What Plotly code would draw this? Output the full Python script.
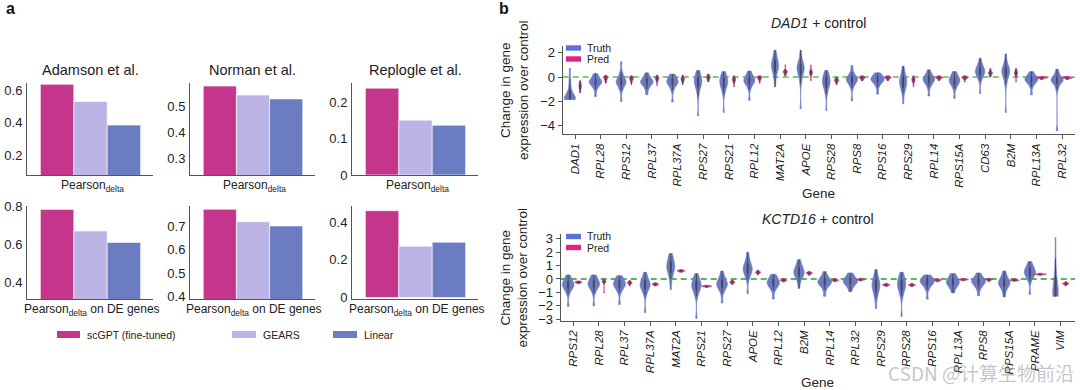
import plotly.graph_objects as go

W, H = 1080, 390

# ---------------- DATA ----------------
methods = ["scGPT (fine-tuned)", "GEARS", "Linear"]
datasets = ["Adamson et al.", "Norman et al.", "Replogle et al."]

adamson_delta = [0.635, 0.530, 0.384]
norman_delta = [0.580, 0.545, 0.530]
replogle_delta = [0.239, 0.151, 0.137]
adamson_de = [0.786, 0.672, 0.612]
norman_de = [0.771, 0.718, 0.700]
replogle_de = [0.462, 0.273, 0.294]

dad1_genes = ["DAD1", "RPL28", "RPS12", "RPL37", "RPL37A", "RPS27", "RPS21", "RPL12", "MAT2A", "APOE",
              "RPS28", "RPS8", "RPS16", "RPS29", "RPL14", "RPS15A", "CD63", "B2M", "RPL13A", "RPL32"]
kctd16_genes = ["RPS12", "RPL28", "RPL37", "RPL37A", "MAT2A", "RPS21", "RPS27", "APOE", "RPL12", "B2M",
                "RPL14", "RPL32", "RPS29", "RPS28", "RPS16", "RPL13A", "RPS8", "RPS15A", "PRAME", "VIM"]

dad1_truth = [
    [-1.85, -1.85, -1.8, -1.8, -1.8, -1.75, -1.7, -1.6, -1.45, -1.2, -0.8, -0.2, 0.7],
    [-1.6, -1.0, -0.75, -0.6, -0.5, -0.45, -0.4, -0.35, -0.3, -0.2, -0.05, 0.1, 0.3],
    [-2.0, -1.1, -0.8, -0.6, -0.5, -0.45, -0.4, -0.35, -0.25, -0.1, 0.1, 0.4, 1.25],
    [-1.45, -1.0, -0.75, -0.6, -0.5, -0.45, -0.4, -0.35, -0.3, -0.2, -0.05, 0.1, 0.35],
    [-2.05, -1.1, -0.8, -0.6, -0.5, -0.45, -0.4, -0.35, -0.3, -0.15, 0.0, 0.1, 0.25],
    [-3.2, -1.6, -1.0, -0.75, -0.6, -0.5, -0.4, -0.3, -0.2, -0.05, 0.1, 0.3, 0.55],
    [-2.9, -1.4, -1.0, -0.8, -0.6, -0.5, -0.45, -0.35, -0.25, -0.1, 0.05, 0.2, 0.45],
    [-1.9, -1.0, -0.7, -0.5, -0.4, -0.35, -0.3, -0.25, -0.15, -0.05, 0.1, 0.25, 0.5],
    [-0.8, 0.0, 0.3, 0.55, 0.75, 0.9, 0.95, 1.0, 1.15, 1.3, 1.5, 1.8, 2.2],
    [-2.6, -0.5, 0.0, 0.3, 0.5, 0.6, 0.7, 0.75, 0.85, 1.0, 1.2, 1.5, 2.2],
    [-2.75, -1.4, -1.0, -0.75, -0.6, -0.5, -0.4, -0.3, -0.2, -0.05, 0.1, 0.3, 0.55],
    [-1.95, -0.9, -0.6, -0.45, -0.3, -0.25, -0.2, -0.15, -0.1, 0.0, 0.15, 0.4, 0.95],
    [-1.4, -0.8, -0.55, -0.4, -0.3, -0.25, -0.2, -0.15, -0.1, 0.0, 0.1, 0.2, 0.35],
    [-2.2, -1.3, -1.0, -0.8, -0.6, -0.5, -0.4, -0.3, -0.2, -0.05, 0.15, 0.4, 0.9],
    [-1.55, -0.85, -0.6, -0.45, -0.3, -0.25, -0.2, -0.15, -0.1, 0.0, 0.15, 0.3, 0.6],
    [-1.75, -0.95, -0.7, -0.55, -0.4, -0.35, -0.3, -0.25, -0.15, -0.05, 0.1, 0.25, 0.45],
    [-1.35, -0.3, 0.0, 0.2, 0.3, 0.4, 0.45, 0.5, 0.6, 0.75, 0.9, 1.1, 1.55],
    [-2.9, -0.6, -0.15, 0.1, 0.3, 0.4, 0.45, 0.5, 0.6, 0.75, 0.95, 1.2, 1.9],
    [-1.45, -0.8, -0.55, -0.4, -0.3, -0.25, -0.2, -0.15, -0.1, 0.0, 0.1, 0.25, 0.45],
    [-4.4, -1.0, -0.65, -0.45, -0.35, -0.3, -0.25, -0.2, -0.15, -0.05, 0.1, 0.3, 0.65],
]
dad1_pred = [
    [-1.3, -1.05, -0.9, -0.8, -0.75, -0.7, -0.6, -0.5, -0.3],
    [-0.5, -0.3, -0.2, -0.1, -0.05, -0.05, 0.0, 0.05, 0.15],
    [-0.6, -0.35, -0.25, -0.15, -0.1, -0.1, -0.05, 0.0, 0.1],
    [-0.7, -0.4, -0.25, -0.15, -0.1, -0.1, -0.05, 0.0, 0.15],
    [-0.6, -0.4, -0.3, -0.2, -0.15, -0.15, -0.1, 0.0, 0.15],
    [-0.4, -0.25, -0.15, -0.05, 0.0, 0.0, 0.05, 0.1, 0.25],
    [-0.8, -0.5, -0.35, -0.25, -0.2, -0.2, -0.15, -0.05, 0.1],
    [-0.5, -0.3, -0.15, -0.1, -0.05, -0.05, 0.0, 0.05, 0.1],
    [0.1, 0.25, 0.35, 0.4, 0.45, 0.45, 0.5, 0.6, 1.0],
    [-0.3, 0.1, 0.25, 0.35, 0.4, 0.4, 0.45, 0.6, 1.0],
    [-0.6, -0.45, -0.35, -0.3, -0.25, -0.25, -0.2, -0.1, 0.0],
    [-0.3, -0.2, -0.1, -0.05, -0.05, -0.05, 0.0, 0.05, 0.1],
    [-0.3, -0.2, -0.1, -0.05, -0.05, -0.05, 0.0, 0.05, 0.1],
    [-0.8, -0.5, -0.35, -0.25, -0.2, -0.2, -0.15, -0.05, 0.1],
    [-0.3, -0.15, -0.1, -0.05, -0.05, -0.05, 0.0, 0.05, 0.1],
    [-0.4, -0.2, -0.1, -0.05, -0.05, -0.05, 0.0, 0.05, 0.1],
    [0.0, 0.15, 0.25, 0.3, 0.35, 0.35, 0.4, 0.5, 0.7],
    [-0.4, 0.05, 0.2, 0.3, 0.35, 0.35, 0.4, 0.5, 0.7],
    [-0.2, -0.12, -0.08, -0.05, -0.05, -0.05, -0.02, 0.0, 0.05],
    [-0.2, -0.12, -0.08, -0.05, -0.05, -0.05, -0.02, 0.0, 0.05],
]
kctd16_truth = [
    [-2.05, -1.1, -0.85, -0.65, -0.55, -0.5, -0.45, -0.4, -0.3, -0.2, -0.05, 0.1, 0.3],
    [-2.0, -1.05, -0.8, -0.6, -0.5, -0.45, -0.4, -0.35, -0.25, -0.15, 0.0, 0.15, 0.3],
    [-1.9, -1.0, -0.8, -0.6, -0.5, -0.45, -0.4, -0.35, -0.25, -0.15, 0.0, 0.1, 0.25],
    [-2.5, -1.2, -0.9, -0.7, -0.55, -0.5, -0.45, -0.4, -0.3, -0.15, 0.0, 0.2, 0.5],
    [-0.8, 0.0, 0.3, 0.55, 0.75, 0.85, 0.9, 0.95, 1.1, 1.25, 1.45, 1.65, 1.9],
    [-2.95, -1.3, -1.0, -0.8, -0.65, -0.55, -0.5, -0.45, -0.35, -0.2, -0.05, 0.15, 0.4],
    [-1.8, -1.05, -0.8, -0.6, -0.5, -0.45, -0.4, -0.35, -0.25, -0.1, 0.05, 0.25, 0.6],
    [-1.1, 0.0, 0.25, 0.45, 0.6, 0.7, 0.75, 0.8, 0.9, 1.05, 1.25, 1.5, 2.0],
    [-1.5, -0.85, -0.65, -0.5, -0.4, -0.35, -0.3, -0.25, -0.15, -0.05, 0.05, 0.2, 0.35],
    [-0.7, -0.1, 0.1, 0.25, 0.4, 0.45, 0.5, 0.55, 0.65, 0.8, 0.95, 1.15, 1.45],
    [-1.3, -0.8, -0.55, -0.4, -0.3, -0.3, -0.25, -0.2, -0.1, 0.0, 0.1, 0.25, 0.55],
    [-0.95, -0.65, -0.45, -0.35, -0.25, -0.2, -0.2, -0.15, -0.05, 0.05, 0.15, 0.3, 0.45],
    [-2.2, -1.4, -1.1, -0.85, -0.7, -0.55, -0.5, -0.4, -0.3, -0.15, 0.05, 0.3, 0.7],
    [-2.8, -1.3, -1.0, -0.8, -0.6, -0.5, -0.4, -0.35, -0.25, -0.1, 0.05, 0.25, 0.5],
    [-1.5, -0.8, -0.55, -0.4, -0.3, -0.25, -0.2, -0.15, -0.1, 0.0, 0.1, 0.2, 0.3],
    [-1.05, -0.75, -0.55, -0.45, -0.35, -0.3, -0.25, -0.2, -0.1, 0.0, 0.1, 0.25, 0.4],
    [-1.25, -0.75, -0.55, -0.4, -0.3, -0.25, -0.2, -0.15, -0.1, 0.0, 0.1, 0.25, 0.45],
    [-1.35, -0.9, -0.7, -0.5, -0.4, -0.35, -0.3, -0.25, -0.15, -0.05, 0.1, 0.3, 0.6],
    [-1.15, -0.15, 0.1, 0.25, 0.35, 0.45, 0.5, 0.55, 0.65, 0.75, 0.9, 1.05, 1.3],
    [-1.3, -1.3, -1.3, -1.25, -1.2, -1.1, -0.9, -0.6, -0.3, 0.0, 0.5, 1.5, 3.1],
]
kctd16_pred = [
    [-0.35, -0.3, -0.27, -0.25, -0.25, -0.23, -0.2, -0.18, -0.15],
    [-1.05, -0.35, -0.25, -0.2, -0.2, -0.18, -0.15, -0.1, 0.0],
    [-0.5, -0.4, -0.33, -0.3, -0.3, -0.28, -0.25, -0.2, -0.12],
    [-0.52, -0.47, -0.43, -0.4, -0.4, -0.38, -0.36, -0.33, -0.28],
    [0.5, 0.54, 0.57, 0.6, 0.6, 0.61, 0.63, 0.65, 0.7],
    [-0.63, -0.59, -0.56, -0.55, -0.55, -0.53, -0.52, -0.5, -0.47],
    [-0.42, -0.33, -0.28, -0.25, -0.25, -0.23, -0.2, -0.15, -0.08],
    [0.32, 0.4, 0.45, 0.48, 0.5, 0.5, 0.53, 0.57, 0.65],
    [-0.22, -0.17, -0.13, -0.1, -0.1, -0.08, -0.06, -0.03, 0.02],
    [0.28, 0.35, 0.4, 0.43, 0.45, 0.45, 0.47, 0.5, 0.56],
    [-0.2, -0.15, -0.12, -0.1, -0.1, -0.08, -0.06, -0.03, 0.02],
    [-0.15, -0.1, -0.07, -0.05, -0.05, -0.04, -0.02, 0.0, 0.05],
    [-0.56, -0.5, -0.47, -0.45, -0.45, -0.43, -0.41, -0.38, -0.33],
    [-0.57, -0.52, -0.48, -0.46, -0.45, -0.44, -0.42, -0.39, -0.33],
    [-0.2, -0.15, -0.12, -0.1, -0.1, -0.08, -0.06, -0.03, 0.02],
    [-0.13, -0.1, -0.07, -0.05, -0.05, -0.04, -0.03, -0.01, 0.02],
    [-0.22, -0.12, -0.08, -0.05, -0.05, -0.04, -0.02, 0.0, 0.05],
    [-0.17, -0.13, -0.11, -0.1, -0.1, -0.08, -0.06, -0.04, 0.0],
    [0.28, 0.31, 0.34, 0.35, 0.35, 0.36, 0.37, 0.39, 0.43],
    [-0.5, -0.43, -0.38, -0.36, -0.35, -0.34, -0.32, -0.28, -0.2],
]

# ---------------- STYLE ----------------
FONT = "Liberation Sans, Arial, Noto Sans CJK SC, sans-serif"
bar_colors = ["#C4368B", "#BBB4E4", "#6C7CC3"]
truth_color = "#6A7AC6"
pred_color = "#C1337F"
truth_swatch = "#5E72D6"
pred_swatch = "#DE2580"
axis_col = "#555555"
txt_col = "#222222"


def pxx(x):
    return x / W


def pyy(y):
    return 1 - y / H


fig = go.Figure()
layout = dict(
    width=W, height=H, margin=dict(l=0, r=0, t=0, b=0, autoexpand=False),
    paper_bgcolor="white", plot_bgcolor="white",
    showlegend=False, bargap=0, font=dict(family=FONT, color=txt_col),
    hovermode=False,
)
annotations = []
shapes = []

# ---------------- PANEL a : bars ----------------
bar_x_dom = [(27, 153), (190, 315), (352, 478)]
bar_y_dom = [(82.7, 175), (206, 299)]
bar_rows = [[adamson_delta, norman_delta, replogle_delta],
            [adamson_de, norman_de, replogle_de]]
bar_ranges = [[(0.077, 0.645), (0.235, 0.593), (0.0, 0.254)],
              [(0.314, 0.804), (0.39, 0.785), (-0.008, 0.487)]]
bar_ticks = [[[0.2, 0.4, 0.6], [0.3, 0.4, 0.5], [0, 0.1, 0.2]],
             [[0.4, 0.6, 0.8], [0.4, 0.5, 0.6, 0.7], [0, 0.2, 0.4]]]
row_labels = ["Pearson<sub>delta</sub>", "Pearson<sub>delta</sub> on DE genes"]
row_label_y = [186, 310]

k = 0
for r in range(2):
    for c in range(3):
        k += 1
        sfx = "" if k == 1 else str(k)
        fig.add_trace(go.Bar(
            x=[0, 1, 2], y=bar_rows[r][c], marker=dict(color=bar_colors, line=dict(color="white", width=0.6)),
            xaxis="x" + sfx, yaxis="y" + sfx, width=1.0,
        ))
        x0, x1 = bar_x_dom[c]
        y0, y1 = bar_y_dom[r]
        layout["xaxis" + sfx] = dict(
            domain=[pxx(x0), pxx(x1)], anchor="y" + sfx, range=[-0.9, 2.87],
            showticklabels=False, ticks="", showgrid=False, zeroline=False,
            showline=True, linecolor=axis_col, linewidth=1, fixedrange=True,
        )
        layout["yaxis" + sfx] = dict(
            domain=[pyy(y1), pyy(y0)], anchor="x" + sfx, range=list(bar_ranges[r][c]),
            tickvals=bar_ticks[r][c], ticks="", showgrid=False, zeroline=False,
            showline=True, linecolor=axis_col, linewidth=1, ticklabelstandoff=1,
            tickfont=dict(size=13, color=txt_col), fixedrange=True,
        )
        if r == 0:
            annotations.append(dict(text=datasets[c], x=pxx((x0 + x1) / 2), y=pyy(70), xref="paper", yref="paper",
                                    showarrow=False, font=dict(size=14.5, color=txt_col), xanchor="center", yanchor="middle"))
        annotations.append(dict(text=row_labels[r], x=pxx((x0 + x1) / 2 + 2), y=pyy(row_label_y[r]), xref="paper", yref="paper",
                                showarrow=False, font=dict(size=12, color=txt_col), xanchor="center", yanchor="middle"))

# panel a legend
leg_sw = [(57, 80), (232, 256), (333, 357)]
for (sx0, sx1), name, col in zip(leg_sw, methods, bar_colors):
    shapes.append(dict(type="rect", xref="paper", yref="paper", x0=pxx(sx0), x1=pxx(sx1),
                       y0=pyy(338), y1=pyy(331), fillcolor=col, line=dict(width=0)))
    annotations.append(dict(text=name, x=pxx(sx1 + 5), y=pyy(334.5), xref="paper", yref="paper", showarrow=False,
                            xanchor="left", yanchor="middle", font=dict(size=10.5, color=txt_col)))

# ---------------- PANEL b : violins ----------------
vio_panels = [
    dict(genes=dad1_genes, truth=dad1_truth, pred=dad1_pred, xdom=(562.7, 1075), ydom=(46, 134),
         yr=(-4.67, 2.55), xr=(-0.48, 19.5), yt=[2, 0, -2, -4], title="<i>DAD1</i> + control", ty=23,
         gene_y=193, leg_y=(48, 59), zcol="#62BC4E", tw=0.52, pw=0.46),
    dict(genes=kctd16_genes, truth=kctd16_truth, pred=kctd16_pred, xdom=(560.7, 1075), ydom=(234.3, 320.7),
         yr=(-3.12, 3.34), xr=(-0.49, 19.56), yt=[3, 2, 1, 0, -1, -2, -3], title="<i>KCTD16</i> + control", ty=219,
         gene_y=382, leg_y=(236.5, 247.5), zcol="#23A023", tw=0.56, pw=0.5),
]

for p_i, P in enumerate(vio_panels):
    k += 1
    sfx = str(k)
    for series, col, off, wid in ((P["truth"], truth_color, -0.2, P["tw"]), (P["pred"], pred_color, 0.2, P["pw"])):
        xs, ys = [], []
        for gi, samples in enumerate(series):
            xs += [gi + off] * len(samples)
            ys += samples
        fig.add_trace(go.Violin(
            x=xs, y=ys, xaxis="x" + sfx, yaxis="y" + sfx, width=wid, spanmode="hard", scalemode="width",
            fillcolor=col, opacity=1, line=dict(color=col, width=0.6), points=False,
            box=dict(visible=True, width=0.07, fillcolor="#4a4a4a", line=dict(color="#4a4a4a", width=1)),
            meanline=dict(visible=False), orientation="v",
        ))
    x0, x1 = P["xdom"]
    y0, y1 = P["ydom"]
    layout["xaxis" + sfx] = dict(
        domain=[pxx(x0), pxx(x1)], anchor="y" + sfx, range=list(P["xr"]),
        tickvals=list(range(len(P["genes"]))), ticktext=P["genes"], tickangle=-90,
        ticks="outside", ticklen=4, tickcolor=axis_col, showgrid=False, zeroline=False,
        showline=True, linecolor=axis_col, linewidth=1,
        tickfont=dict(size=11.5, color=txt_col, style="italic"), fixedrange=True,
    )
    layout["yaxis" + sfx] = dict(
        domain=[pyy(y1), pyy(y0)], anchor="x" + sfx, range=list(P["yr"]), tickvals=P["yt"],
        ticks="outside", ticklen=4, tickcolor=axis_col, showgrid=False, zeroline=False,
        showline=True, linecolor=axis_col, linewidth=1,
        tickfont=dict(size=13, color=txt_col), fixedrange=True,
    )
    shapes.append(dict(type="line", xref="x" + sfx + " domain", yref="y" + sfx, x0=0, x1=1, y0=0, y1=0,
                       line=dict(color=P["zcol"], width=1.5, dash="6px,4px"), layer="below"))
    cx = pxx((x0 + x1) / 2)
    annotations.append(dict(text=P["title"], x=cx, y=pyy(P["ty"]), xref="paper", yref="paper", showarrow=False,
                            xanchor="center", yanchor="middle", font=dict(size=14, color=txt_col)))
    annotations.append(dict(text="Gene", x=cx, y=pyy(P["gene_y"]), xref="paper", yref="paper", showarrow=False,
                            xanchor="center", yanchor="middle", font=dict(size=13.5, color=txt_col)))
    annotations.append(dict(text="Change in gene<br>expression over control", x=pxx(514),
                            y=pyy((y0 + y1) / 2), xref="paper", yref="paper", showarrow=False, textangle=-90,
                            xanchor="center", yanchor="middle", font=dict(size=13.5, color=txt_col)))
    for lab, sc, ly in (("Truth", truth_swatch, P["leg_y"][0]), ("Pred", pred_swatch, P["leg_y"][1])):
        shapes.append(dict(type="rect", xref="paper", yref="paper", x0=pxx(566), x1=pxx(581),
                           y0=pyy(ly + 2.7), y1=pyy(ly - 2.7), fillcolor=sc, line=dict(width=0)))
        annotations.append(dict(text=lab, x=pxx(585), y=pyy(ly), xref="paper", yref="paper", showarrow=False,
                                xanchor="left", yanchor="middle", font=dict(size=10.5, color=txt_col)))

# panel letters
annotations.append(dict(text="<b>a</b>", x=pxx(4), y=pyy(8), xref="paper", yref="paper", showarrow=False,
                        xanchor="left", yanchor="middle", font=dict(size=16, color="#111")))
annotations.append(dict(text="<b>b</b>", x=pxx(497), y=pyy(8), xref="paper", yref="paper", showarrow=False,
                        xanchor="left", yanchor="middle", font=dict(size=16, color="#111")))
# watermark
annotations.append(dict(text="CSDN @计算生物前沿", x=pxx(1076), y=pyy(372), xref="paper", yref="paper",
                        showarrow=False, xanchor="right", yanchor="middle",
                        font=dict(size=19, color="rgba(160,160,160,0.6)", family="Noto Sans CJK SC, Liberation Sans")))

layout["annotations"] = annotations
layout["shapes"] = shapes
layout["violinmode"] = "overlay"
fig.update_layout(**layout)
fig.write_html("out.html", config={"displayModeBar": False, "staticPlot": True},
               post_script="document.body.style.margin='0';document.body.style.overflow='hidden';")
